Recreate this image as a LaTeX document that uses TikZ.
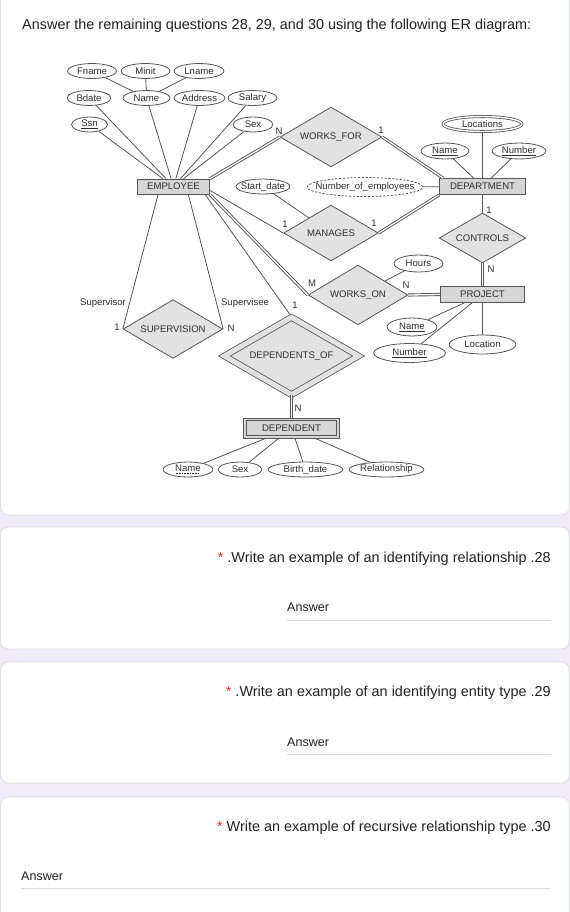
\documentclass[tikz,border=0pt]{standalone}
\usepackage{fontspec}
\setmainfont{Liberation Sans}
\usetikzlibrary{shapes.geometric}

\definecolor{pagebg}{RGB}{240,235,248}
\definecolor{cardline}{RGB}{218,220,224}
\definecolor{inktext}{RGB}{32,33,36}
\definecolor{reqred}{RGB}{217,48,37}
\definecolor{erline}{RGB}{85,85,85}
\definecolor{ertext}{RGB}{45,45,45}
\definecolor{entfill}{RGB}{214,214,214}
\definecolor{relfill}{RGB}{226,226,226}

% dotted underline for a partial key
\newcommand{\dotkey}[1]{\setbox0\hbox{#1}\rlap{\raisebox{-2bp}{\hbox to \wd0{\leaders\hbox to 1.6bp{\hss\rule{0.8bp}{0.5bp}\hss}\hfill}}}#1}

\begin{document}
\begin{tikzpicture}[
    x=1bp, y=-1bp,
    font=\fontsize{9.6}{11}\selectfont,
    every node/.style={text=ertext},
    attr/.style={ellipse, draw=erline, line width=0.8bp, fill=white, inner xsep=-9bp, inner ysep=0pt, minimum width=#1, minimum height=15},
    multi/.style={attr=#1, double, double distance=1.4bp},
    derived/.style={attr=#1, dash pattern=on 2.2bp off 1.6bp},
    entity/.style={rectangle, draw=erline, line width=0.8bp, fill=entfill, inner sep=0pt, minimum width=#1, minimum height=15},
    rel/.style={diamond, aspect=1.7, draw=erline, line width=0.8bp, fill=relfill, inner sep=0pt},
    weakrel/.style={rel, double=relfill, double distance=5bp},
    link/.style={draw=erline, line width=0.8bp},
    total/.style={draw=erline, line width=0.9bp, double, double distance=1.3bp},
    cardno/.style={inner sep=0pt},
    formcard/.style={draw=cardline, fill=white, rounded corners=8bp, line width=0.8bp},
    formtext/.style={inner sep=0pt, text=inktext, font=\fontsize{14.5}{17}\selectfont},
    anstext/.style={inner sep=0pt, text=inktext, font=\fontsize{12.6}{15}\selectfont},
    ansline/.style={draw=cardline, line width=1bp}
]

% Page and form cards
\useasboundingbox (0,0) rectangle (570,912);
\fill[pagebg] (0,0) rectangle (570,912);
\draw[formcard] (0.5,-10) rectangle (569.5,515);
\draw[formcard] (0.5,527) rectangle (569.5,649);
\draw[formcard] (0.5,662) rectangle (569.5,783);
\draw[formcard] (0.5,797) rectangle (569.5,925);

\node[formtext, anchor=west] (title) at (22,26) {Answer the remaining questions 28, 29, and 30 using the following ER diagram:};

% Employee and its attributes
\node[attr=49] (fname) at (92,71) {Fname};
\node[attr=49] (minit) at (145.5,71) {Minit};
\node[attr=50] (lname) at (199,71) {Lname};
\node[attr=44] (bdate) at (89,98) {Bdate};
\node[attr=47] (ename) at (146.5,98) {Name};
\node[attr=51] (addr) at (199.5,98) {Address};
\node[attr=49] (salary) at (252.5,98) {Salary};
\node[attr=36] (ssn) at (89.5,124.5) {\underline{Ssn}};
\node[attr=40] (esex) at (253,124.5) {Sex};
\node[entity=72] (emp) at (173.5,186.5) {EMPLOYEE};
\node[attr=54] (startd) at (263,186.5) {Start\_date};

% Department
\node[entity=86, minimum height=16] (dept) at (482.5,186.5) {DEPARTMENT};
\node[multi=79] (locs) at (482.5,124) {Locations};
\node[attr=48, minimum height=16] (dname) at (445,151) {\underline{Name}};
\node[attr=54, minimum height=16] (dnum) at (519,151) {\underline{Number}};
\node[derived=116, minimum height=19] (nemp) at (365,187) {Number\_of\_employees};

% Relationships
\node[rel, minimum width=102, minimum height=60] (wf) at (331,137) {WORKS\_FOR};
\node[rel, minimum width=95, minimum height=56] (mg) at (331,233) {MANAGES};
\node[rel, minimum width=87, minimum height=50] (ctrl) at (482.5,238) {CONTROLS};
\node[rel, minimum width=100, minimum height=60] (wo) at (358,295) {WORKS\_ON};
\node[rel, minimum width=100, minimum height=59] (sup) at (173,329) {SUPERVISION};
\node[weakrel, minimum width=135, minimum height=78] (dof) at (291.5,356) {DEPENDENTS\_OF};

% Project
\node[entity=85, minimum height=16] (proj) at (482.5,294.5) {PROJECT};
\node[attr=49, minimum height=17] (hours) at (418.5,263.5) {Hours};
\node[attr=50, minimum height=18] (pname) at (412,327) {\underline{Name}};
\node[attr=72, minimum height=19] (pnum) at (409.5,353) {\underline{Number}};
\node[attr=67, minimum height=19] (ploc) at (482.5,344.5) {Location};

% Dependent (weak entity: inner frame drawn inside the box)
\node[entity=96, minimum height=20] (dep) at (291.5,428) {DEPENDENT};
\draw[link] ([xshift=3bp,yshift=-3bp]dep.north west) rectangle ([xshift=-3bp,yshift=3bp]dep.south east);
\node[attr=50] (dpname) at (188,469.5) {\dotkey{Name}};
\node[attr=44] (dpsex) at (240,469.5) {Sex};
\node[attr=75] (bdat) at (305.5,469.5) {Birth\_date};
\node[attr=75] (drel) at (386.5,469.5) {Relationship};

% Roles and cardinalities
\node[cardno] (supr) at (103,303) {Supervisor};
\node[cardno] (supe) at (245,303) {Supervisee};
\node[cardno] (c1) at (279,131) {N};
\node[cardno] (c2) at (381,130) {1};
\node[cardno] (c3) at (285,224) {1};
\node[cardno] (c4) at (374,223) {1};
\node[cardno] (c5) at (489,210) {1};
\node[cardno] (c6) at (491,269) {N};
\node[cardno] (c7) at (312,283) {M};
\node[cardno] (c8) at (406,285) {N};
\node[cardno] (c9) at (117,327) {1};
\node[cardno] (c10) at (231,328) {N};
\node[cardno] (c11) at (295,305) {1};
\node[cardno] (c12) at (298,408) {N};

% Attribute links
\foreach \a in {fname,minit,lname}
  \draw[link] (\a) -- (ename);
\foreach \a in {bdate,ename,addr,salary,ssn,esex}
  \draw[link] (\a) -- (emp);
\foreach \a in {locs,dname,dnum,nemp}
  \draw[link] (\a) -- (dept);
\foreach \a in {pname,pnum,ploc}
  \draw[link] (\a) -- (proj);
\foreach \a in {dpname,dpsex,bdat,drel}
  \draw[link] (\a) -- (dep);
\draw[link] (hours) -- (wo);
\draw[link] (startd) -- (mg);

% Relationship links
\draw[total] (emp.12) -- (wf.west);
\draw[total] (wf.east) -- (dept.168);
\draw[link] (emp.354) -- (mg.west);
\draw[total] (mg.east) -- (dept.south west);
\draw[link] (dept) -- (ctrl);
\draw[total] (ctrl) -- (proj);
\draw[total] (emp.south east) -- (wo.west);
\draw[total] (wo.east) -- (proj.west);
\draw[link, shorten >=3bp] (emp.-14) -- (dof.north);
\draw[total] (dof.south) -- (dep.north);
\draw[link] (emp.207) -- (sup.west);
\draw[link] (emp.332) -- (sup.east);

% Questions
\node[formtext, anchor=east] (q28) at (551,559) {\textcolor{reqred}{*} .Write an example of an identifying relationship .28};
\node[anstext, anchor=west] (a28) at (287,607) {Answer};
\draw[ansline] (287,620) -- (551,620);

\node[formtext, anchor=east] (q29) at (551,693) {\textcolor{reqred}{*} .Write an example of an identifying entity type .29};
\node[anstext, anchor=west] (a29) at (287,742) {Answer};
\draw[ansline] (287,754) -- (551,754);

\node[formtext, anchor=east] (q30) at (551,828) {\textcolor{reqred}{*} Write an example of recursive relationship type .30};
\node[anstext, anchor=west] (a30) at (21,876) {Answer};
\draw[ansline] (21,888) -- (551,888);

\end{tikzpicture}
\end{document}
